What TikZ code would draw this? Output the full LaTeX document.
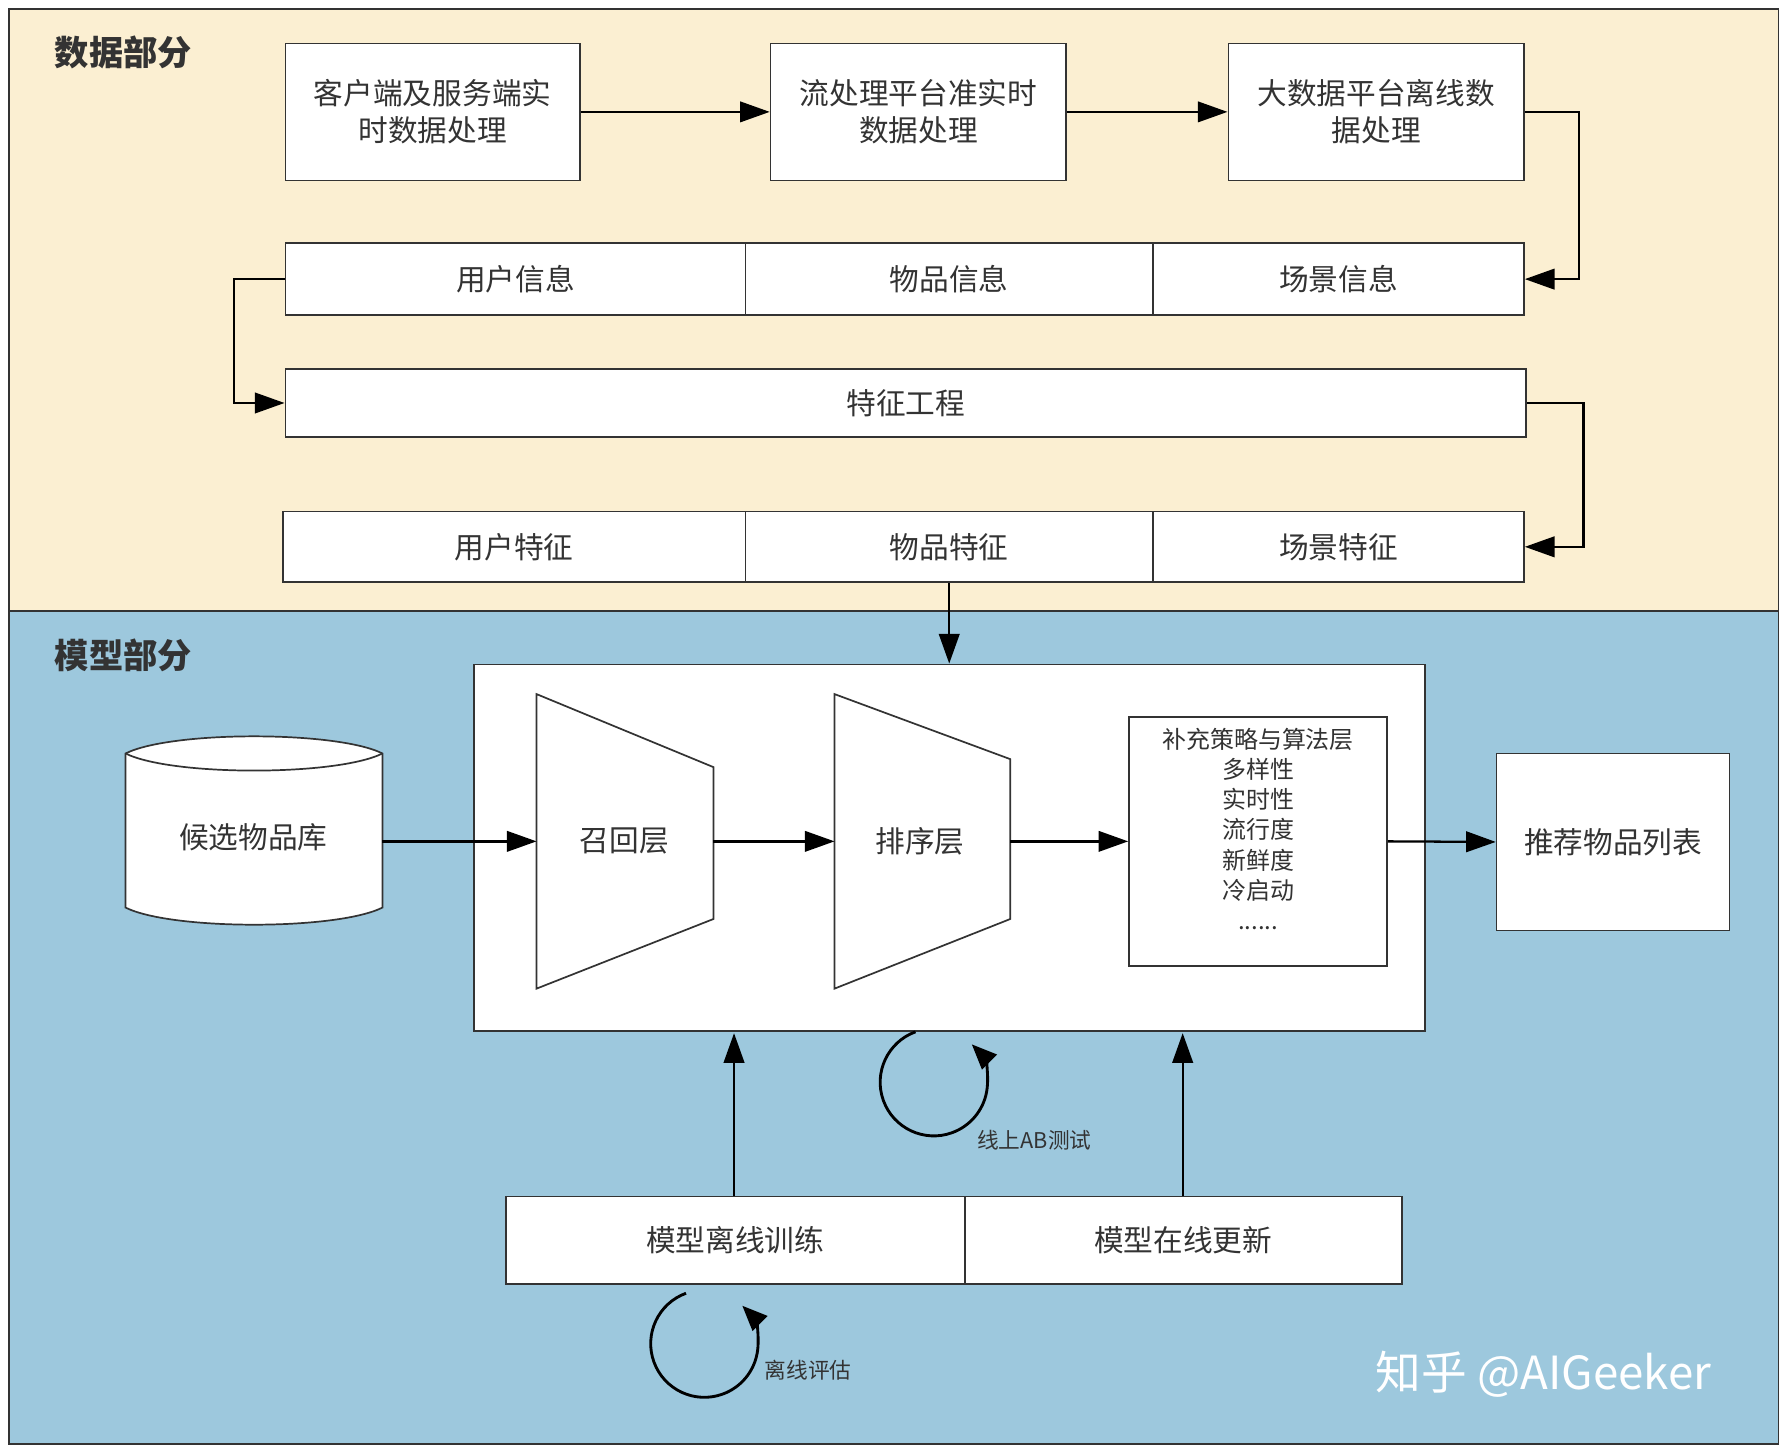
\documentclass[tikz,border=0pt]{standalone}
\usepackage{fontspec}
\setmainfont{Noto Sans CJK SC}
\usetikzlibrary{arrows.meta,calc}
\definecolor{dataBG}{HTML}{FBEFD2}
\definecolor{modelBG}{HTML}{9DC8DD}
\definecolor{ln}{HTML}{333333}
\tikzset{
 bx/.style={draw=ln,line width=1.5pt,fill=white},
 ar/.style={draw=black,line width=2pt,-{Triangle[length=26pt,width=18pt]}},
 cir/.style={draw=black,line width=2.5pt,-{Triangle[length=22pt,width=18pt]}},
 tx/.style={font=\fontsize{26}{32}\selectfont,text=black!80,align=center},
 sm/.style={font=\fontsize{21}{26.5}\selectfont,text=black!80,align=center},
 ttl/.style={font=\fontsize{30}{34}\selectfont\bfseries,text=black!80}
}
\begin{document}
\begin{tikzpicture}[x=1pt,y=-1pt]
\useasboundingbox (0,0) rectangle (1568,1270);
\fill[white] (0,0) rectangle (1568,1270);
\draw[fill=dataBG,draw=ln,line width=1.5pt] (8,8) rectangle (1558,535);
\draw[fill=modelBG,draw=ln,line width=1.5pt] (8,535) rectangle (1558,1265);
\node[ttl] (t1) at (108,46) {数据部分};
\node[ttl] (t2) at (108,574) {模型部分};
% data boxes
\node[bx,tx,minimum width=258,minimum height=120] (b1) at (379,98) {客户端及服务端实\\时数据处理};
\node[bx,tx,minimum width=259,minimum height=120] (b2) at (804.5,98) {流处理平台准实时\\数据处理};
\node[bx,tx,minimum width=259,minimum height=120] (b3) at (1205.5,98) {大数据平台离线数\\据处理};
\node[bx,tx,minimum width=403,minimum height=63] (i1) at (451.5,244.5) {用户信息};
\node[bx,tx,minimum width=357,minimum height=63] (i2) at (831.5,244.5) {物品信息};
\node[bx,tx,minimum width=325,minimum height=63] (i3) at (1172.5,244.5) {场景信息};
\node[bx,tx,minimum width=1087,minimum height=60] (fe) at (793.5,353) {特征工程};
\node[bx,tx,minimum width=405,minimum height=62] (f1) at (450.5,479) {用户特征};
\node[bx,tx,minimum width=357,minimum height=62] (f2) at (831.5,479) {物品特征};
\node[bx,tx,minimum width=325,minimum height=62] (f3) at (1172.5,479) {场景特征};
\draw[ar] (b1.east) -- (b2.west);
\draw[ar] (b2.east) -- (b3.west);
\draw[ar] (b3.east) -- (1383,98) -- (1383,244.5) -- (i3.east);
\draw[ar] (i1.west) -- (205,244.5) -- (205,353) -- (fe.west);
\draw[ar] (fe.east) -- (1387,353) -- (1387,479) -- (f3.east);
% model part
\node[bx,minimum width=833,minimum height=321] (mb) at (831.5,742.5) {};
\draw[ar] (f2.south) -- (mb.north);
\draw[bx] (110,660) .. controls (150,640) and (295,640) .. (335,660) -- (335,795) .. controls (295,815) and (150,815) .. (110,795) -- cycle;
\draw[draw=ln,line width=1.5pt] (110,660) .. controls (150,680) and (295,680) .. (335,660);
\node[tx] (cy) at (222,733) {候选物品库};
\coordinate (cye) at (335,737);
\draw[bx] (470,608) -- (625,672) -- (625,805) -- (470,866) -- cycle;
\node[tx] (r1) at (547,737) {召回层};
\draw[bx] (731,608) -- (885,665) -- (885,805) -- (731,866) -- cycle;
\node[tx] (r2) at (806,737) {排序层};
\coordinate (t1w) at (470,737); \coordinate (t1e) at (625,737);
\coordinate (t2w) at (731,737); \coordinate (t2e) at (885,737);
\node[bx,minimum width=226,minimum height=218] (sb) at (1102,737) {};
\node[sm,anchor=north] (sbt) at (1102,634) {补充策略与算法层\\多样性\\实时性\\流行度\\新鲜度\\冷启动\\......};
\node[bx,tx,minimum width=204,minimum height=155] (rl) at (1413,737.5) {推荐物品列表};
\draw[ar] (cye) -- (t1w);
\draw[ar] (t1e) -- (t2w);
\draw[ar] (t2e) -- (sb.west);
\draw[ar] (sb.east) -- (rl.west);
\node[bx,tx,minimum width=402,minimum height=77] (m1) at (644,1086.5) {模型离线训练};
\node[bx,tx,minimum width=383,minimum height=77] (m2) at (1036.5,1086.5) {模型在线更新};
\coordinate (u1) at (643,905); \coordinate (u2) at (1036,905);
\draw[ar] (m1.north -| u1) -- (u1);
\draw[ar] (m2.north -| u2) -- (u2);
\coordinate (c1) at (818,948);
\draw[cir] ($(c1)+(-110:47)$) arc[start angle=-110,end angle=-405,radius=47];
\node[font=\fontsize{19}{21}\selectfont,text=black!80] (l1) at (906,999) {线上AB测试};
\coordinate (c2) at (617,1177);
\draw[cir] ($(c2)+(-110:47)$) arc[start angle=-110,end angle=-405,radius=47];
\node[font=\fontsize{19}{21}\selectfont,text=black!80] (l2) at (708,1200) {离线评估};
\node[font=\fontsize{40}{44}\selectfont,text=white] (wm) at (1352,1204) {知乎 @AIGeeker};
\end{tikzpicture}
\end{document}
